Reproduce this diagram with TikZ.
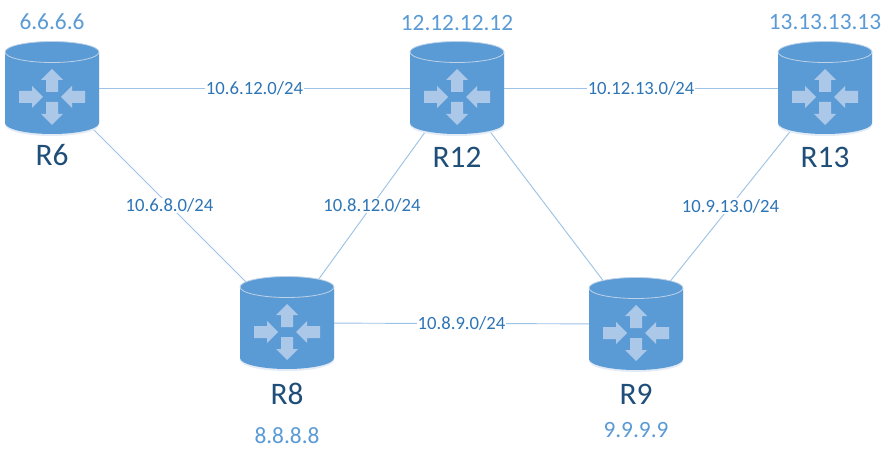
\documentclass[tikz,border=0pt]{standalone}
\usepackage{fontspec}
\setmainfont{Carlito}
\usetikzlibrary{backgrounds}
\definecolor{cylblue}{HTML}{5B9BD5}
\definecolor{iconblue}{HTML}{ABC8E8}
\definecolor{rimblue}{HTML}{BDD2E8}
\definecolor{shadeblue}{HTML}{E3ECF6}
\definecolor{linkblue}{HTML}{9DC3E6}
\definecolor{namedark}{HTML}{1F4E79}
\definecolor{labblue}{HTML}{2E75B6}
\tikzset{
  routerbox/.style={inner sep=0pt,minimum width=70.5pt,minimum height=69pt},
  rname/.style={text=namedark,font=\fontsize{23.5}{25}\selectfont,inner sep=0pt},
  rip/.style={text=cylblue,font=\fontsize{17.5}{19}\selectfont,inner sep=0pt},
  link/.style={draw=linkblue,line width=0.7pt},
  linklab/.style={midway,fill=white,text=labblue,font=\fontsize{14}{16}\selectfont,inner sep=0.6pt},
  arrowpart/.style={fill=iconblue,draw=none},
}
\newcommand{\iconarrow}[1]{%
  \fill[arrowpart,shift={(0,9)},rotate=#1]
    (0,28) -- (11,17) -- (6,17) -- (6,5) -- (-6,5) -- (-6,17) -- (-11,17) -- cycle;}
\newcommand{\inarrow}[1]{%
  \fill[arrowpart,shift={(0,9)},rotate=#1]
    (0,9) -- (11,20) -- (6,20) -- (6,33) -- (-6,33) -- (-6,20) -- (-11,20) -- cycle;}
\newcommand{\router}[3]{%
  \node[routerbox] (#1) at (#2,#3) {};
  \begin{scope}[shift={(#2,#3)}]
    \fill[shadeblue] (-47,-34) -- (-47,37) arc[x radius=47,y radius=11,start angle=180,end angle=0] -- (47,-34) -- cycle;
    \fill[cylblue] (-47,-36) -- (-47,35) arc[x radius=47,y radius=11,start angle=180,end angle=0] -- (47,-36) -- cycle;
    \draw[rimblue,line width=0.6pt,fill=cylblue] (-47,-36) arc[x radius=47,y radius=10.5,start angle=180,end angle=540] -- cycle;
    \iconarrow{180}
    \iconarrow{0}
    \inarrow{90}
    \inarrow{-90}
  \end{scope}}
\begin{document}
\begin{tikzpicture}[x=0.75pt,y=-0.75pt]
\useasboundingbox (0,0) rectangle (895,463);
\router{R6}{52}{88}
\router{R12}{457}{88}
\router{R13}{825}{88}
\router{R8}{287}{323}
\router{R9}{636}{324}
\node[rname] (nR6) at (52,155) {R6};
\node[rname] (nR12) at (457,157) {R12};
\node[rname] (nR13) at (825,157) {R13};
\node[rname] (nR8) at (287,394) {R8};
\node[rname] (nR9) at (636,394) {R9};
\node[rip] (ipR6) at (52,22) {6.6.6.6};
\node[rip] (ipR12) at (457,23) {12.12.12.12};
\node[rip] (ipR13) at (825,22) {13.13.13.13};
\node[rip] (ipR8) at (287,436) {8.8.8.8};
\node[rip] (ipR9) at (636,430) {9.9.9.9};
\begin{scope}[on background layer]
\fill[white] (0,0) rectangle (895,463);
\draw[link] (R6.center) -- node[linklab] {10.6.12.0/24} (R12.center);
\draw[link] (R12.center) -- node[linklab] {10.12.13.0/24} (R13.center);
\draw[link] (R6.center) -- node[linklab] {10.6.8.0/24} (R8.center);
\draw[link] (R8.center) -- node[linklab] {10.8.12.0/24} (R12.center);
\draw[link] (R9.center) -- node[linklab] {10.9.13.0/24} (R13.center);
\draw[link] (R8.center) -- node[linklab] {10.8.9.0/24} (R9.center);
\draw[link] (R12.center) -- (R9.center);
\end{scope}
\end{tikzpicture}
\end{document}
